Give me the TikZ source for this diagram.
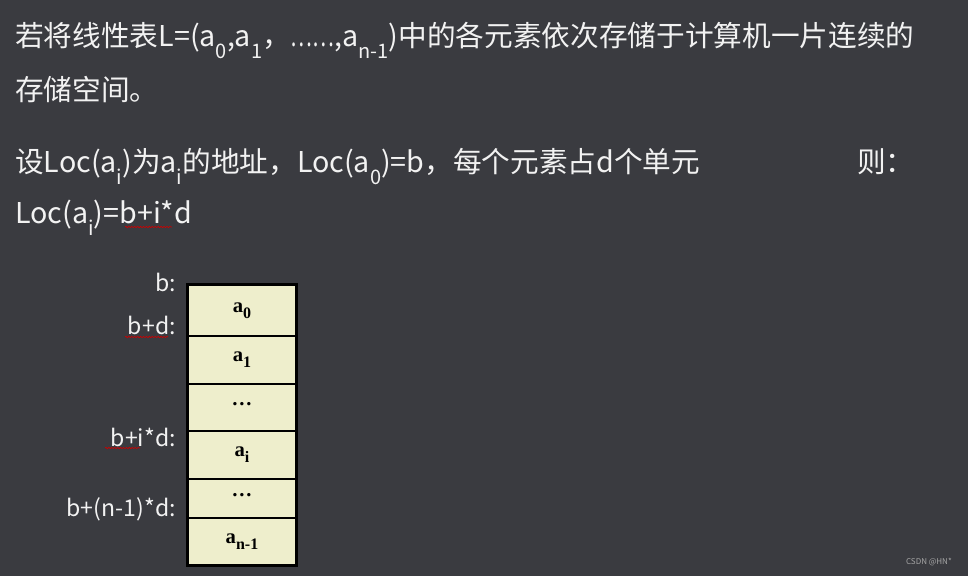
\documentclass[tikz,border=0pt]{standalone}
\usepackage{fontspec}
\setmainfont{Noto Sans CJK SC}
\newfontfamily\cellfont{Liberation Serif}
\usetikzlibrary{decorations.pathmorphing}
\definecolor{bg}{RGB}{58,59,64}
\definecolor{txt}{RGB}{242,242,242}
\definecolor{cellbg}{RGB}{238,238,204}
\newcommand{\lo}[1]{\raisebox{-.42em}{\fontsize{15}{15}\selectfont #1}}
\newcommand{\clo}[1]{\raisebox{-.3em}{\fontsize{12}{12}\selectfont #1}}
\tikzset{
  line/.style={anchor=base west,text=txt,inner sep=0pt,font=\fontsize{21.5}{26}\selectfont},
  addr/.style={anchor=base east,text=txt,inner sep=0pt,font=\fontsize{17.3}{20}\selectfont},
  cell/.style={draw=black,line width=1pt,fill=cellbg,minimum width=80.25pt,inner sep=0pt,
    font=\cellfont\bfseries\fontsize{15.5}{18}\selectfont},
  typo/.style={red!80!black,line width=0.5pt,decorate,
    decoration={snake,amplitude=0.5pt,segment length=2.2pt}}
}
\begin{document}
\begin{tikzpicture}[x=0.75pt,y=-0.75pt]
  \fill[bg](0,0)rectangle(968,576);%背景
  \useasboundingbox(0,0)rectangle(968,576);
  \node[line](t1)at(15,46){若将线性表L=(a\lo{0},a\lo{1}，\scalebox{0.72}[1]{……},a\lo{n-1})中的各元素依次存储于计算机一片连续的};
  \node[line](t2)at(15,100){存储空间。};
  \node[line](t3)at(15,172){设Loc(a\lo{i})为a\lo{i}的地址，Loc(a\lo{0})=b，每个元素占d个单元};
  \node[line](t3r)at(857,172){则：};
  \node[line](t4)at(15,223){Loc(a\lo{i})=b+i*d};
  \draw[typo](125,227)--(172,227);
  %存储单元
  \node[cell,minimum height=38.25pt](c0)at(242,310.5){a\clo{0}};
  \node[cell,minimum height=36pt](c1)at(242,360){a\clo{1}};
  \node[cell,minimum height=35.25pt](c2)at(242,407.5){\raisebox{.35em}{\dots}};
  \node[cell,minimum height=36pt](c3)at(242,455){a\clo{i}};
  \node[cell,minimum height=29.25pt](c4)at(242,498.5){\raisebox{.35em}{\dots}};
  \node[cell,minimum height=35.25pt](c5)at(242,541.5){a\clo{n-1}};
  \draw[line width=2.2pt](c0.north west)rectangle(c5.south east);
  %地址
  \node[addr](b0)at(176,291){b:};
  \node[addr](b1)at(176,334){b+d:};
  \node[addr](bi)at(176,446){b+i*d:};
  \node[addr](bn)at(176,516){b+(n-1)*d:};
  \draw[typo](125,337)--(168,337);
  \draw[typo](105,448)--(140,448);
  \node[anchor=east,text=gray!70,inner sep=0pt,font=\fontsize{6}{7}\selectfont](wm)at(952,562){CSDN @HN*};
\end{tikzpicture}
\end{document}
